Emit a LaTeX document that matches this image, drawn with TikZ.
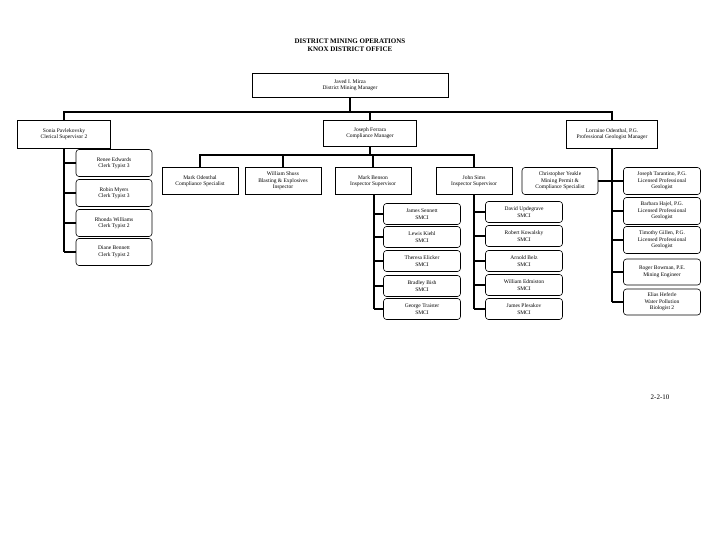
\documentclass[tikz,border=0pt]{standalone}
\usepackage{fontspec}
\setmainfont{Liberation Serif}
\usetikzlibrary{positioning,calc}
\tikzset{
    x=1pt,
    y=-1pt,
    box/.style = {
        draw,
        shape=rectangle,
        align=center,
        font=\fontsize{5.5}{6.5}\selectfont,
        inner sep=1pt,
        line width=0.8pt
    },
    rbox/.style = {
        box,
        rounded corners=3pt,
        line width=0.6pt
    },
    link/.style = {
        draw,
        line width=1.6pt
    },
}
\begin{document}
\begin{tikzpicture}
            \useasboundingbox (0,0) rectangle (720,540);
            \node[font=\bfseries\fontsize{7}{8}\selectfont, align=center] (title) at (350,45) {DISTRICT MINING OPERATIONS\\KNOX DISTRICT OFFICE};

            % managers
            \node[box, minimum width=196, minimum height=24] (javed) at (350,85) {Javed I. Mirza\\District Mining Manager};
            \node[box, minimum width=93, minimum height=28] (sonia) at (64,134) {Sonia Pavlekovsky\\Clerical Supervisor 2};
            \node[box, minimum width=93, minimum height=26] (ferrara) at (370,133) {Joseph Ferrara\\Compliance Manager};
            \node[box, minimum width=91, minimum height=28] (lorraine) at (612,134) {Lorraine Odenthal, P.G.\\Professional Geologist Manager};

            % compliance row
            \node[box, minimum width=76, minimum height=27] (odenthal) at (200,181) {Mark Odenthal\\Compliance Specialist};
            \node[box, minimum width=76, minimum height=27] (shuss) at (283,181) {William Shuss\\Blasting \& Explosives\\Inspector};
            \node[box, minimum width=76, minimum height=27] (benson) at (373,181) {Mark Benson\\Inspector Supervisor};
            \node[box, minimum width=76, minimum height=27] (sims) at (474,181) {John Sims\\Inspector Supervisor};
            \node[rbox, minimum width=76, minimum height=27] (yeakle) at (560,181) {Christopher Yeakle\\Mining Permit \&\\Compliance Specialist};

            % clerical staff
            \node[rbox, minimum width=76, minimum height=27] (edwards) at (114,163) {Renee Edwards\\Clerk Typist 3};
            \node[rbox, minimum width=76, minimum height=27] (myers) at (114,193) {Robin Myers\\Clerk Typist 3};
            \node[rbox, minimum width=76, minimum height=27] (williams) at (114,223) {Rhonda Williams\\Clerk Typist 2};
            \node[rbox, minimum width=76, minimum height=27] (bennett) at (114,252) {Diane Bennett\\Clerk Typist 2};

            % inspectors
            \node[rbox, minimum width=77, minimum height=21] (sennett) at (422,214) {James Sennett\\SMCI};
            \node[rbox, minimum width=77, minimum height=21] (kiehl) at (422,237) {Lewis Kiehl\\SMCI};
            \node[rbox, minimum width=77, minimum height=21] (elicker) at (422,261) {Theresa Elicker\\SMCI};
            \node[rbox, minimum width=77, minimum height=21] (bish) at (422,286) {Bradley Bish\\SMCI};
            \node[rbox, minimum width=77, minimum height=21] (traister) at (422,309) {George Traister\\SMCI};

            \node[rbox, minimum width=77, minimum height=21] (updegrave) at (524,212) {David Updegrave\\SMCI};
            \node[rbox, minimum width=77, minimum height=21] (kowalsky) at (524,236) {Robert Kowalsky\\SMCI};
            \node[rbox, minimum width=77, minimum height=21] (belz) at (524,261) {Arnold Belz\\SMCI};
            \node[rbox, minimum width=77, minimum height=21] (edmiston) at (524,285) {William Edmiston\\SMCI};
            \node[rbox, minimum width=77, minimum height=21] (plesakov) at (524,309) {James Plesakov\\SMCI};

            % geologists
            \node[rbox, minimum width=77, minimum height=27] (tarantino) at (662,181) {Joseph Tarantino, P.G.\\Licensed Professional\\Geologist};
            \node[rbox, minimum width=77, minimum height=27] (hajel) at (662,211) {Barbara Hajel, P.G.\\Licensed Professional\\Geologist};
            \node[rbox, minimum width=77, minimum height=27] (gillen) at (662,240) {Timothy Gillen, P.G.\\Licensed Professional\\Geologist};
            \node[rbox, minimum width=77, minimum height=26] (bowman) at (662,272) {Roger Bowman, P.E.\\Mining Engineer};
            \node[rbox, minimum width=77, minimum height=26] (heferle) at (662,302) {Elias Heferle\\Water Pollution\\Biologist 2};

            \node[font=\fontsize{7}{8}\selectfont] (date) at (660,397) {2-2-10};

            % bus ends
            \coordinate (topbus) at (350,112);
            \coordinate (midbus) at (370,155);
            \coordinate (sonialow) at (64,252);
            \coordinate (bensonlow) at (374,309);
            \coordinate (simslow) at (474,309);
            \coordinate (lorrainelow) at (612,302);

            \path[link] (javed) -- (topbus);
            \path[link] (sonia.north) |- (topbus) -| (lorraine.north);
            \path[link] (topbus) -| (ferrara.north);
            \path[link] (ferrara) -- (midbus);
            \path[link] (odenthal.north) |- (midbus) -| (sims.north);
            \path[link] (shuss.north) -- (shuss.north |- midbus);
            \path[link] (benson.north) -- (benson.north |- midbus);

            \path[link] (sonia.south) -- (sonialow);
            \foreach \n in {edwards,myers,williams,bennett}
                \path[link] (\n.west) -- (\n.west -| sonialow);
            \path[link] (benson.south -| bensonlow) -- (bensonlow);
            \foreach \n in {sennett,kiehl,elicker,bish,traister}
                \path[link] (\n.west) -- (\n.west -| bensonlow);
            \path[link] (sims.south) -- (simslow);
            \foreach \n in {updegrave,kowalsky,belz,edmiston,plesakov}
                \path[link] (\n.west) -- (\n.west -| simslow);
            \path[link] (lorraine.south) -- (lorrainelow);
            \path[link] (yeakle.east) -- (yeakle.east -| lorrainelow);
            \foreach \n in {tarantino,hajel,gillen,bowman,heferle}
                \path[link] (\n.west) -- (\n.west -| lorrainelow);
        \end{tikzpicture}
\end{document}
